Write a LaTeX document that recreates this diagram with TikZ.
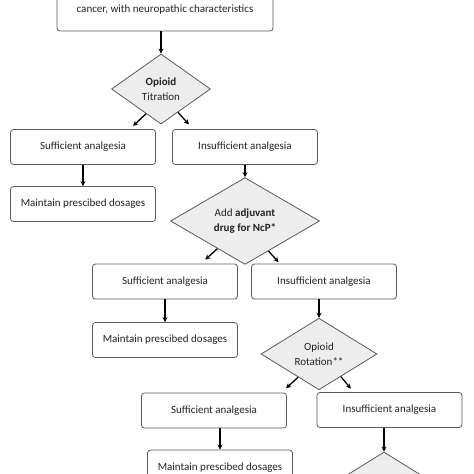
\documentclass[tikz,border=0pt]{standalone}
\usepackage{fontspec}
\setmainfont{Carlito}
\usepackage{tikz}
\usetikzlibrary{positioning, shapes.geometric, arrows.meta}
\definecolor{fcLine}{RGB}{90, 90, 90}
\definecolor{fcFill}{RGB}{237, 237, 237}
\definecolor{fcText}{RGB}{35, 35, 35}
\tikzset{
    base/.style={
        font=\fontsize{11}{15}\selectfont,
        text=fcText,
        align=center
    },
    stage/.style={
        base,
        rectangle,
        rounded corners=3pt,
        draw=fcLine,
        line width=0.8pt,
        fill=white,
        minimum width=145pt,
        minimum height=35pt,
        inner sep=0pt
    },
    decision/.style={
        base,
        diamond,
        draw=fcLine,
        line width=0.8pt,
        fill=fcFill,
        inner sep=0pt
    },
    flow/.style={
        -{Stealth[length=5pt, width=5pt]},
        line width=1.3pt,
        color=black
    }
}

\begin{document}
\begin{tikzpicture}[x=1pt, y=-1pt]
  \useasboundingbox (0,0) rectangle (474,474);
  \clip (0,0) rectangle (474,474);

  % Start
  \node[stage, minimum width=216pt, minimum height=56pt] (start) at (165,3) {};
  \node[base] (starttext) at (165,10) {cancer, with neuropathic characteristics};

  % Step 1: titration
  \node[decision, minimum width=99pt, minimum height=70pt] (titr) at (161,89) {\textbf{Opioid}\\Titration};
  \draw[flow] (titr.north |- start.south) -- (titr.north);

  \node[stage] (suf1) at (83,147) {Sufficient analgesia};
  \node[stage] (ins1) at (245,147) {Insufficient analgesia};
  \node[stage] (keep1) at (83,204) {Maintain prescibed dosages};
  \draw[flow] (titr.-121) -- ++(-13,12);
  \draw[flow] (titr.-54) -- ++(11,12);
  \draw[flow] (suf1) -- (keep1);

  % Step 2: adjuvant
  \node[decision, minimum width=149pt, minimum height=70pt] (adj) at (245,221) {Add \textbf{adjuvant}\\\textbf{drug for NcP*}};
  \draw[flow] (ins1) -- (adj);

  \node[stage] (suf2) at (165,281.5) {Sufficient analgesia};
  \node[stage] (ins2) at (324,281.5) {Insufficient analgesia};
  \node[stage] (keep2) at (165,340) {Maintain prescibed dosages};
  \draw[flow] (adj.-135) -- ++(-12,11);
  \draw[flow] (adj.-52) -- ++(10,11);
  \draw[flow] (suf2) -- (keep2);

  % Step 3: rotation
  \node[decision, minimum width=116pt, minimum height=68pt] (rot) at (319,354) {Opioid\\Rotation**};
  \draw[flow] (rot.north |- ins2.south) -- (rot.north);

  \node[stage] (suf3) at (214,410.5) {Sufficient analgesia};
  \node[stage] (ins3) at (389.5,410) {Insufficient analgesia};
  \node[stage] (keep3) at (220,467.5) {Maintain prescibed dosages};
  \draw[flow] (rot.-132) -- ++(-12,11);
  \draw[flow] (rot.-46) -- ++(10,12);
  \draw[flow] (keep3.north |- suf3.south) -- (keep3.north);

  % Step 4
  \node[decision, minimum width=116pt, minimum height=72pt] (next) at (384,488) {};
  \draw[flow] (next.north |- ins3.south) -- (next.north);

\end{tikzpicture}
\end{document}
